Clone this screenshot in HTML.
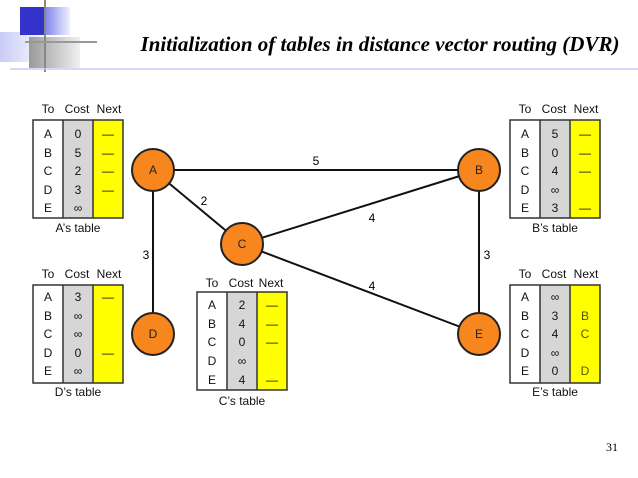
<!DOCTYPE html>
<html><head><meta charset="utf-8"><style>
html,body{margin:0;padding:0;background:#fff;}
svg{display:block;}
text{font-family:"Liberation Sans",sans-serif;}
</style></head><body>
<svg width="638" height="478" viewBox="0 0 638 478" xmlns="http://www.w3.org/2000/svg">
<defs>
<linearGradient id="lb" x1="0" x2="1"><stop offset="0" stop-color="#7d80e8"/><stop offset="1" stop-color="#eef0ff"/></linearGradient>
<linearGradient id="lb2" x1="0" x2="1"><stop offset="0" stop-color="#c8ccf5"/><stop offset="1" stop-color="#f4f5ff"/></linearGradient>
<linearGradient id="gr" x1="0" x2="1"><stop offset="0" stop-color="#9a9a9a"/><stop offset="1" stop-color="#f0f0f0"/></linearGradient>
</defs>
<!-- logo -->
<rect x="0" y="32" width="42" height="30" fill="url(#lb2)"/>
<rect x="29" y="37" width="51" height="31" fill="url(#gr)"/>
<rect x="20" y="7" width="24" height="28" fill="#3333cc"/>
<rect x="44" y="7" width="26" height="28" fill="url(#lb)"/>
<line x1="45" y1="0" x2="45" y2="72" stroke="#888" stroke-width="2"/>
<line x1="25" y1="42" x2="97" y2="42" stroke="#999" stroke-width="2"/>
<line x1="10" y1="69" x2="638" y2="69" stroke="#c8ccf0" stroke-width="1.5"/>
<text x="380" y="51" text-anchor="middle" font-family="Liberation Serif,serif" font-style="italic" font-weight="bold" font-size="21" style="font-family:'Liberation Serif',serif">Initialization of tables in distance vector routing (DVR)</text>

<!-- edges -->
<g stroke="#111" stroke-width="2">
<line x1="153" y1="170" x2="479" y2="170"/>
<line x1="153" y1="170" x2="242" y2="244"/>
<line x1="153" y1="170" x2="153" y2="334"/>
<line x1="242" y1="244" x2="479" y2="170"/>
<line x1="242" y1="244" x2="479" y2="334"/>
<line x1="479" y1="170" x2="479" y2="334"/>
</g>
<g font-size="12" text-anchor="middle">
<text x="316" y="165">5</text><text x="204" y="205">2</text><text x="372" y="222">4</text>
<text x="146" y="259">3</text><text x="487" y="259">3</text><text x="372" y="290">4</text>
</g>
<!-- nodes -->
<g fill="#f7861e" stroke="#222" stroke-width="2">
<circle cx="153" cy="170" r="21"/><circle cx="479" cy="170" r="21"/>
<circle cx="242" cy="244" r="21"/><circle cx="153" cy="334" r="21"/><circle cx="479" cy="334" r="21"/>
</g>
<g font-size="12" text-anchor="middle" fill="#222">
<text x="153" y="174">A</text><text x="479" y="174">B</text><text x="242" y="248">C</text>
<text x="153" y="338">D</text><text x="479" y="338">E</text>
</g>

<!-- tables -->
<g font-size="12" text-anchor="middle" fill="#111">
<!-- A -->
<g transform="translate(33,120)">
<rect x="0" y="0" width="30" height="98" fill="#fff"/><rect x="30" y="0" width="30" height="98" fill="#d6d6d6"/><rect x="60" y="0" width="30" height="98" fill="#ffff00"/>
<rect x="0" y="0" width="90" height="98" fill="none" stroke="#333" stroke-width="1.5"/><line x1="30" y1="0" x2="30" y2="98" stroke="#333" stroke-width="1.5"/><line x1="60" y1="0" x2="60" y2="98" stroke="#333" stroke-width="1.5"/>
<text x="15" y="-7">To</text><text x="44" y="-7">Cost</text><text x="76" y="-7">Next</text>
<text x="15" y="18">A</text><text x="15" y="37">B</text><text x="15" y="55">C</text><text x="15" y="74">D</text><text x="15" y="92">E</text>
<text x="45" y="18">0</text><text x="45" y="37">5</text><text x="45" y="55">2</text><text x="45" y="74">3</text><text x="45" y="92">∞</text>
<text x="75" y="18">—</text><text x="75" y="37">—</text><text x="75" y="55">—</text><text x="75" y="74">—</text>
<text x="45" y="112">A’s table</text>
</g>
<!-- B -->
<g transform="translate(510,120)">
<rect x="0" y="0" width="30" height="98" fill="#fff"/><rect x="30" y="0" width="30" height="98" fill="#d6d6d6"/><rect x="60" y="0" width="30" height="98" fill="#ffff00"/>
<rect x="0" y="0" width="90" height="98" fill="none" stroke="#333" stroke-width="1.5"/><line x1="30" y1="0" x2="30" y2="98" stroke="#333" stroke-width="1.5"/><line x1="60" y1="0" x2="60" y2="98" stroke="#333" stroke-width="1.5"/>
<text x="15" y="-7">To</text><text x="44" y="-7">Cost</text><text x="76" y="-7">Next</text>
<text x="15" y="18">A</text><text x="15" y="37">B</text><text x="15" y="55">C</text><text x="15" y="74">D</text><text x="15" y="92">E</text>
<text x="45" y="18">5</text><text x="45" y="37">0</text><text x="45" y="55">4</text><text x="45" y="74">∞</text><text x="45" y="92">3</text>
<text x="75" y="18">—</text><text x="75" y="37">—</text><text x="75" y="55">—</text><text x="75" y="92">—</text>
<text x="45" y="112">B’s table</text>
</g>
<!-- D -->
<g transform="translate(33,285)">
<rect x="0" y="0" width="30" height="98" fill="#fff"/><rect x="30" y="0" width="30" height="98" fill="#d6d6d6"/><rect x="60" y="0" width="30" height="98" fill="#ffff00"/>
<rect x="0" y="0" width="90" height="98" fill="none" stroke="#333" stroke-width="1.5"/><line x1="30" y1="0" x2="30" y2="98" stroke="#333" stroke-width="1.5"/><line x1="60" y1="0" x2="60" y2="98" stroke="#333" stroke-width="1.5"/>
<text x="15" y="-7">To</text><text x="44" y="-7">Cost</text><text x="76" y="-7">Next</text>
<text x="15" y="16">A</text><text x="15" y="35">B</text><text x="15" y="53">C</text><text x="15" y="72">D</text><text x="15" y="90">E</text>
<text x="45" y="16">3</text><text x="45" y="35">∞</text><text x="45" y="53">∞</text><text x="45" y="72">0</text><text x="45" y="90">∞</text>
<text x="75" y="16">—</text><text x="75" y="72">—</text>
<text x="45" y="111">D’s table</text>
</g>
<!-- C -->
<g transform="translate(197,292)">
<rect x="0" y="0" width="30" height="98" fill="#fff"/><rect x="30" y="0" width="30" height="98" fill="#d6d6d6"/><rect x="60" y="0" width="30" height="98" fill="#ffff00"/>
<rect x="0" y="0" width="90" height="98" fill="none" stroke="#333" stroke-width="1.5"/><line x1="30" y1="0" x2="30" y2="98" stroke="#333" stroke-width="1.5"/><line x1="60" y1="0" x2="60" y2="98" stroke="#333" stroke-width="1.5"/>
<text x="15" y="-5">To</text><text x="44" y="-5">Cost</text><text x="74" y="-5">Next</text>
<text x="15" y="17">A</text><text x="15" y="36">B</text><text x="15" y="54">C</text><text x="15" y="73">D</text><text x="15" y="92">E</text>
<text x="45" y="17">2</text><text x="45" y="36">4</text><text x="45" y="54">0</text><text x="45" y="73">∞</text><text x="45" y="92">4</text>
<text x="75" y="17">—</text><text x="75" y="36">—</text><text x="75" y="54">—</text><text x="75" y="92">—</text>
<text x="45" y="113">C’s table</text>
</g>
<!-- E -->
<g transform="translate(510,285)">
<rect x="0" y="0" width="30" height="98" fill="#fff"/><rect x="30" y="0" width="30" height="98" fill="#d6d6d6"/><rect x="60" y="0" width="30" height="98" fill="#ffff00"/>
<rect x="0" y="0" width="90" height="98" fill="none" stroke="#333" stroke-width="1.5"/><line x1="30" y1="0" x2="30" y2="98" stroke="#333" stroke-width="1.5"/><line x1="60" y1="0" x2="60" y2="98" stroke="#333" stroke-width="1.5"/>
<text x="15" y="-7">To</text><text x="44" y="-7">Cost</text><text x="76" y="-7">Next</text>
<text x="15" y="16">A</text><text x="15" y="35">B</text><text x="15" y="53">C</text><text x="15" y="72">D</text><text x="15" y="90">E</text>
<text x="45" y="16">∞</text><text x="45" y="35">3</text><text x="45" y="53">4</text><text x="45" y="72">∞</text><text x="45" y="90">0</text>
<text x="75" y="35" fill="#555500">B</text><text x="75" y="53" fill="#555500">C</text><text x="75" y="90" fill="#555500">D</text>
<text x="45" y="111">E’s table</text>
</g>
</g>
<text x="612" y="451" text-anchor="middle" font-size="12" style="font-family:'Liberation Serif',serif">31</text>
</svg>
</body></html>
